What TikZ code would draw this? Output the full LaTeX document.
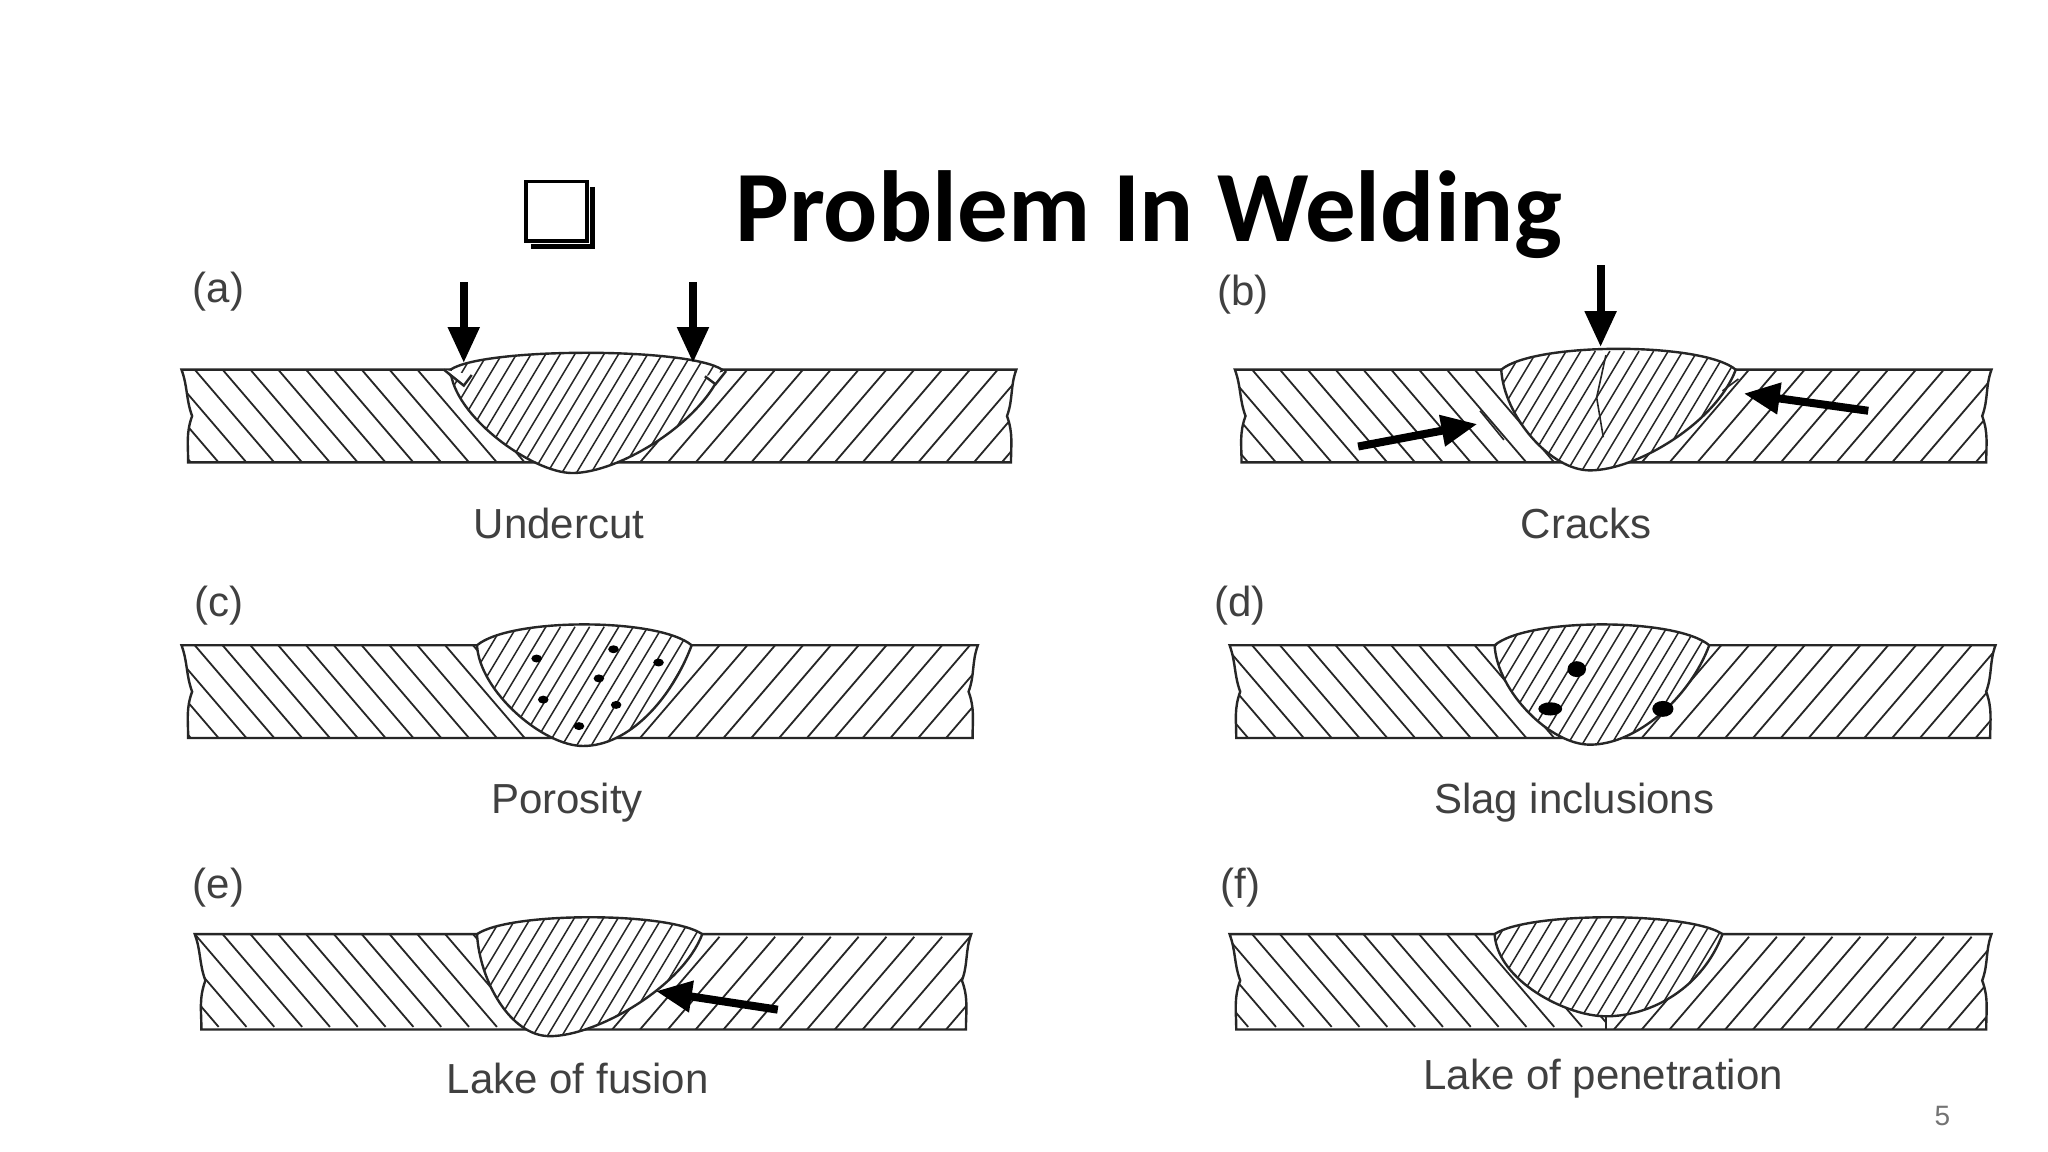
\documentclass[tikz,border=0pt]{standalone}
\usepackage{fontspec}
\setmainfont{Liberation Sans}
\newfontfamily\titlefont{Carlito}
\usetikzlibrary{arrows.meta}
\tikzset{
  hl/.style={line width=1.8pt,black!85},
  ol/.style={line width=2.4pt,black!85},
  bigarrow/.style={line width=8pt,-{Triangle[width=30pt,length=36pt]}},
  lab/.style={font=\fontsize{42}{42}\selectfont,text=black!75,inner sep=0pt},
}
% plate: x0 x1 yt yb split
\newcommand\plate[5]{%
  \def\plateoutline{(#1,#3) -- (#2,#3) to[out=-110,in=70] (#2-7,#3+35) to[out=-70,in=90] (#2-4,#4) -- (#1+5,#4) to[out=90,in=-110] (#1+8,#3+35) to[out=110,in=-70] cycle}%
  \begin{scope}\clip \plateoutline; \clip (0,0) rectangle (#5,900);
    \foreach \i in {0,21,...,1600} \draw[hl] (\i,#3) -- ++(60,70);
  \end{scope}
  \begin{scope}\clip \plateoutline; \clip (#5,0) rectangle (1600,900);
    \foreach \i in {0,21,...,1600} \draw[hl] (\i,#4) -- ++(60,-70);
  \end{scope}
  \draw[ol] \plateoutline;
}
% weld: xL xR bump xb yb yt
\newcommand\weld[6]{%
  \def\weldoutline{(#1,#6) .. controls (#1+25,#3) and (#2-25,#3) .. (#2,#6) .. controls (#2-15,#6+40) and (#4+35,#5) .. (#4,#5) .. controls (#4-30,#5) and (#1+2,#6+35) .. cycle}%
  \fill[white] \weldoutline;
  \begin{scope}\clip \weldoutline;
    \foreach \i in {0,11,...,1600} \draw[hl,line width=1.5pt] (\i,#5+10) -- ++(60,-100);
  \end{scope}
  \draw[ol] \weldoutline;
}
\begin{document}
\begin{tikzpicture}[x=1.325pt,y=-1.325pt]
\useasboundingbox[fill=white] (0,0) rectangle (1545.66,869.43);
% title
\draw[line width=3.5pt] (397,137) rectangle (443,182);
\draw[line width=5pt] (447,141) -- (447,186) -- (401,186);
\node[anchor=west,inner sep=0pt,font=\titlefont\bfseries\fontsize{101}{101}\selectfont] (title) at (555,162) {Problem In Welding};
% (a)
\node[lab] (la) at (165,220) {(a)};
\plate{137}{767}{279}{349}{440}
\weld{340}{545}{262}{432}{357}{279}
\draw[ol,fill=white] (335,279) -- (350,291) -- (356,283); \draw[ol,fill=white] (532,284) -- (540,290) -- (548,280);
\coordinate (a1s) at (350,213); \coordinate (a1e) at (350,274);
\coordinate (a2s) at (523,213); \coordinate (a2e) at (523,274);
\draw[bigarrow] (a1s) -- (a1e); \draw[bigarrow] (a2s) -- (a2e);
\node[lab] (ca) at (422,395) {Undercut};
% (b)
\node[lab] (lb) at (938,222) {(b)};
\plate{932}{1503}{279}{349}{1215}
\weld{1133}{1310}{258}{1200}{355}{279}
\draw[ol,line width=1.6pt] (1212,268) -- (1205,300) -- (1210,330);
\draw[ol,line width=1.6pt] (1117,310) -- (1135,332);
\draw[ol,line width=1.6pt] (1300,295) -- (1312,286);
\coordinate (b1s) at (1208,200); \coordinate (b1e) at (1208,262);
\coordinate (b2s) at (1025,337); \coordinate (b2e) at (1115,320);
\coordinate (b3s) at (1410,310); \coordinate (b3e) at (1316,297);
\draw[bigarrow] (b1s) -- (b1e); \draw[bigarrow] (b2s) -- (b2e); \draw[bigarrow] (b3s) -- (b3e);
\node[lab] (cb) at (1197,395) {Cracks};
% (c)
\node[lab] (lc) at (165,457) {(c)};
\plate{137}{738}{487}{557}{440}
\weld{360}{522}{466}{440}{563}{487}
\foreach \p in {(405,497),(463,490),(452,512),(497,500),(410,528),(465,532),(437,548)} \fill[black] \p ellipse (4 and 3);
\node[lab] (cc) at (428,606) {Porosity};
% (d)
\node[lab] (ld) at (936,457) {(d)};
\plate{928}{1506}{487}{557}{1205}
\weld{1128}{1290}{466}{1200}{562}{487}
\fill[black] (1190,505) ellipse (7 and 6);
\fill[black] (1170,535) ellipse (9 and 5);
\fill[black] (1255,535) ellipse (8 and 6);
\node[lab] (cd) at (1188,606) {Slag inclusions};
% (e)
\node[lab] (le) at (165,670) {(e)};
\plate{147}{733}{705}{777}{440}
\weld{360}{530}{688}{415}{782}{705}
\coordinate (e1s) at (587,762); \coordinate (e1e) at (495,748);
\draw[bigarrow] (e1s) -- (e1e);
\node[lab] (ce) at (436,814) {Lake of fusion};
% (f)
\node[lab] (lf) at (936,670) {(f)};
\plate{928}{1503}{705}{777}{1212}
\weld{1128}{1300}{688}{1212}{767}{705}
\draw[ol] (1212,767) -- (1212,777);
\node[lab] (cf) at (1210,814) {Lake of penetration};
\node[font=\fontsize{28}{28}\selectfont,text=black!55] (pg) at (1466,842) {5};
\end{tikzpicture}
\end{document}
